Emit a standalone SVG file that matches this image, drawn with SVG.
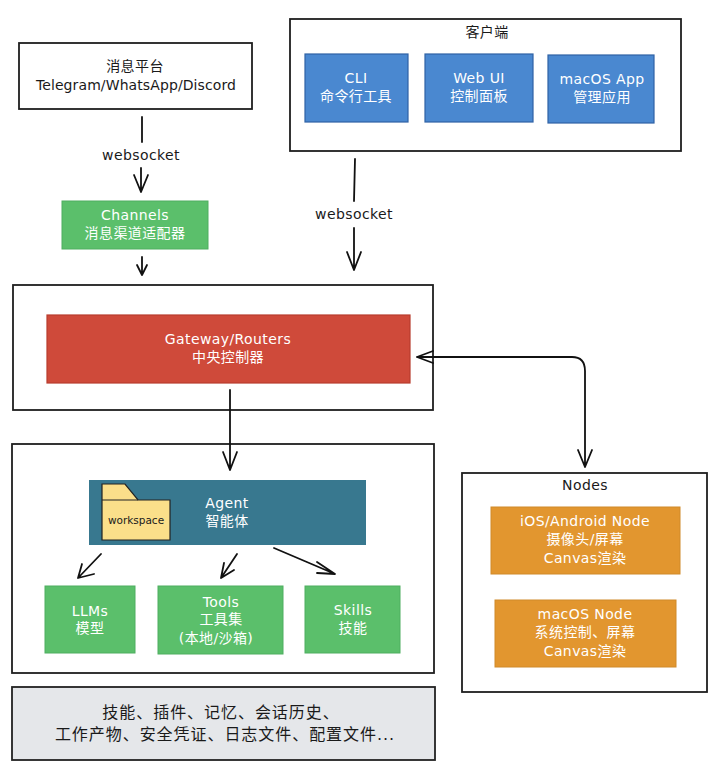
<svg xmlns="http://www.w3.org/2000/svg" width="720" height="770" viewBox="0 0 720 770">
<style>
text{font-family:"DejaVu Sans","Noto Sans CJK SC",sans-serif;text-anchor:middle;font-size:14px;letter-spacing:.4px;fill:#1a1a1a}
.w{fill:#fff}
.box{fill:#fff;stroke:#1e1e1e;stroke-width:1.8}
.blue{fill:#4a88d0;stroke:#2f62a5;stroke-width:1.2}
.green{fill:#5bbf6b;stroke:#4fae60;stroke-width:1}
.orange{fill:#e2962f;stroke:#d08a2b;stroke-width:1}
.big{font-size:16px;letter-spacing:.95px}
.conn path{fill:none;stroke:#111;stroke-width:1.8;stroke-linecap:round;stroke-linejoin:round}
</style>
<rect width="720" height="770" fill="#fff"/>
<g id="platform"><rect class="box" x="19" y="43" width="233" height="66"/><text x="135" y="71">消息平台</text><text x="136" y="90" style="letter-spacing:.1px">Telegram/WhatsApp/Discord</text></g>
<g id="clients"><rect class="box" x="290" y="19" width="391" height="132"/><text x="487" y="37">客户端</text></g>
<g id="cli"><rect class="blue" x="305" y="54" width="103" height="68"/><text class="w" x="356" y="83">CLI</text><text class="w" x="356" y="101">命令行工具</text></g>
<g id="webui"><rect class="blue" x="425" y="54" width="108" height="68"/><text class="w" x="479" y="83">Web UI</text><text class="w" x="479" y="101">控制面板</text></g>
<g id="macapp"><rect class="blue" x="548" y="55" width="106" height="68"/><text class="w" x="602" y="84">macOS App</text><text class="w" x="602" y="102">管理应用</text></g>
<g id="websocket1"><text x="141" y="160">websocket</text></g>
<g id="websocket2"><text x="354" y="219">websocket</text></g>
<g id="channels"><rect class="green" x="62" y="201" width="146" height="48"/><text class="w" x="135" y="220">Channels</text><text class="w" x="135" y="238">消息渠道适配器</text></g>
<g id="gatewayOuter"><rect class="box" x="13" y="285" width="420" height="125"/></g>
<g id="gateway"><rect x="47" y="315" width="363" height="68" fill="#cf4a3a" stroke="#b83c2e" stroke-width="1.2"/><text class="w" x="228" y="344">Gateway/Routers</text><text class="w" x="228" y="362">中央控制器</text></g>
<g id="agentOuter"><rect class="box" x="12" y="444" width="422" height="229"/></g>
<g id="agent"><rect x="89" y="480" width="277" height="65" fill="#38788f"/><text class="w" x="227" y="508">Agent</text><text class="w" x="227" y="526">智能体</text></g>
<g id="workspace"><path d="M102 484H125L138 500H170V540H102Z" fill="#fbdf8a" stroke="#222" stroke-width="1.2"/><path d="M102 500H138" fill="none" stroke="#222" stroke-width="1"/><text x="136" y="524" style="font-size:10.5px;letter-spacing:0">workspace</text></g>
<g id="llms"><rect class="green" x="45" y="586" width="90" height="67"/><text class="w" x="90" y="616">LLMs</text><text class="w" x="90" y="633">模型</text></g>
<g id="tools"><rect class="green" x="158" y="586" width="125" height="68"/><text class="w" x="221" y="607">Tools</text><text class="w" x="221" y="624">工具集</text><text class="w" x="216" y="643">(本地/沙箱)</text></g>
<g id="skills"><rect class="green" x="305" y="586" width="95" height="67"/><text class="w" x="353" y="615">Skills</text><text class="w" x="353" y="633">技能</text></g>
<g id="storage"><rect x="12" y="687" width="423" height="73" fill="#e5e7ea" stroke="#222" stroke-width="1.8"/><text class="big" x="221" y="718">技能、插件、记忆、会话历史、</text><text class="big" x="225" y="740">工作产物、安全凭证、日志文件、配置文件...</text></g>
<g id="nodes"><rect class="box" x="462" y="473" width="245" height="219"/><text x="585" y="490">Nodes</text></g>
<g id="ios"><rect class="orange" x="491" y="507" width="189" height="67"/><text class="w" x="585" y="526">iOS/Android Node</text><text class="w" x="585" y="544">摄像头/屏幕</text><text class="w" x="585" y="563">Canvas渲染</text></g>
<g id="macnode"><rect class="orange" x="495" y="600" width="181" height="67"/><text class="w" x="585" y="619">macOS Node</text><text class="w" x="585" y="637">系统控制、屏幕</text><text class="w" x="585" y="656">Canvas渲染</text></g>
<g class="conn" id="connectors">
<path d="M142 117V142M141 168V192M134 175L141 192L148 175"/>
<path d="M142 257V275M137 265L142 275L147 265"/>
<path d="M355 159L354 201M354 228V270M347 252L354 270L361 252"/>
<path d="M230 390V470M223 452L230 470L237 452"/>
<path d="M101 554L78 578M82 564L78 578L94 574"/>
<path d="M237 554L221 578M224 563L221 578L234 570"/>
<path d="M274 548L335 574M317 562L335 574L317 573"/>
<path d="M417 357H572Q585 357 585 371V467M578 450L585 467L592 450M433 351L417 357L433 363"/>
</g>
</svg>
